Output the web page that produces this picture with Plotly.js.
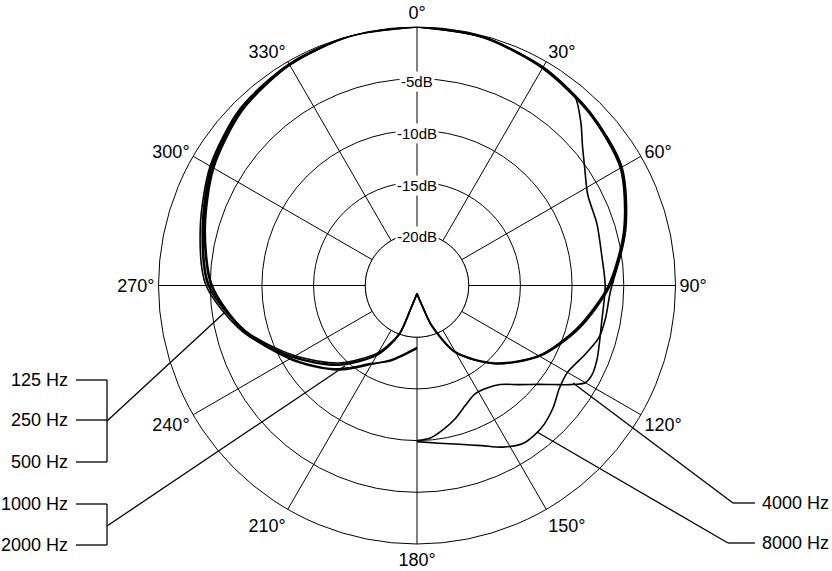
<!DOCTYPE html>
<html>
<head>
<meta charset="utf-8">
<script src="https://cdn.plot.ly/plotly-3.0.1.min.js"></script>
<style>body{margin:0;background:#fff}</style>
</head>
<body>
<div id="myDiv" style="width:832px;height:571px"></div>
<script>
// polar response, dB relative to 0 deg
var thetaFull = [0,15,30,45,60,75,90,105,120,135,150,160,165,170,175,180,185,190,195,200,210,225,240,255,270,285,300,315,330,345,360];
var hz125 = [0,-0.15,-0.6,-1.3,-2.1,-4.1,-6.3,-8.8,-11.3,-14.3,-17.5,-20.9,-22.8,-23.6,-24.0,-24.2,-24.0,-23.6,-22.7,-20.0,-17.3,-14.2,-11.2,-7.8,-4.8,-3.5,-2.0,-0.9,-0.3,0,0];
var hz250 = [0,-0.1,-0.7,-1.4,-2.2,-4.2,-6.4,-8.9,-11.4,-14.4,-17.6,-21.0,-22.9,-23.6,-24.0,-24.2,-24.0,-23.6,-22.8,-20.1,-17.5,-14.4,-11.4,-7.9,-4.9,-3.6,-2.1,-1.0,-0.35,-0.05,0];
var hz500 = [0,-0.2,-0.75,-1.45,-2.3,-4.3,-6.5,-9.0,-11.4,-14.3,-17.5,-20.8,-22.8,-23.6,-24.0,-24.2,-24.0,-23.6,-22.6,-19.9,-17.2,-14.1,-11.1,-7.6,-4.6,-3.3,-1.9,-0.8,-0.25,0,0];

var thetaLeft = [180,190,200,210,220,225,232,240,255,270,285,300,315,330,345,360];
var hz1000 = [-18.9,-18.2,-17.2,-16.3,-14.6,-13.6,-12.4,-10.9,-7.8,-5.2,-3.8,-2.3,-1.1,-0.4,-0.05,0];
var hz2000 = [-19.0,-18.3,-17.3,-16.2,-14.4,-13.5,-12.3,-10.8,-7.7,-5.1,-3.7,-2.2,-1.0,-0.35,0,0];

var theta4000 = [0,15,30,36,40,45,50,55,62,71,81,90,101,112,117,120,123,126,129,134,140,146,152,158,164,170,175,180];
var hz4000 = [0,-0.15,-0.65,-0.95,-1.2,-2.6,-4.1,-5.2,-6.3,-6.6,-6.9,-6.8,-6.8,-6.2,-6.0,-6.2,-7.4,-8.7,-9.8,-11.2,-12.5,-13.0,-13.1,-12.5,-11.6,-10.8,-10.2,-10.0];

var theta8000 = [0,15,30,45,60,75,85,92,100,106,112,120,126,132,139,146,152,158,165,172,180];
var hz8000 = [0,-0.15,-0.65,-1.35,-2.15,-4.15,-5.6,-6.3,-6.5,-6.7,-7.4,-8.2,-8.0,-7.3,-6.7,-6.6,-7.3,-8.3,-9.1,-9.6,-9.9];

var dbTicks = [-5,-10,-15,-20];
var rMin = -25, rMax = 0;

// page geometry (px)
var W = 832, H = 571;
var cx = 417, cy = 285.5, R = 258.5;
function px(x) { return x / W; }
function py(y) { return 1 - y / H; }

var font = 'Arial, "Liberation Sans", sans-serif';

// inner disc hides the spokes below -20 dB
var discTheta = [], discR = [];
for (var a = 0; a <= 360; a += 5) { discTheta.push(a); discR.push(dbTicks[dbTicks.length - 1]); }

function curve(theta, r, name) {
  return {
    type: 'scatterpolar', mode: 'lines', name: name,
    theta: theta, r: r,
    line: { color: '#000', width: 1.6, shape: 'spline', smoothing: 0.8 },
    hoverinfo: 'skip'
  };
}

var data = [
  {
    type: 'scatterpolar', mode: 'lines', theta: discTheta, r: discR,
    fill: 'toself', fillcolor: '#fff', line: { color: '#000', width: 1 }, hoverinfo: 'skip'
  },
  curve(thetaFull, hz125, '125 Hz'),
  curve(thetaFull, hz250, '250 Hz'),
  curve(thetaFull, hz500, '500 Hz'),
  curve(thetaLeft, hz1000, '1000 Hz'),
  curve(thetaLeft, hz2000, '2000 Hz'),
  curve(theta4000, hz4000, '4000 Hz'),
  curve(theta8000, hz8000, '8000 Hz')
];

var annotations = dbTicks.map(function (v) {
  var rp = (v - rMin) / (rMax - rMin) * R;
  return {
    xref: 'paper', yref: 'paper', x: px(cx), y: py(cy - rp), yshift: -3,
    xanchor: 'center', yanchor: 'middle',
    text: v + 'dB', showarrow: false, bgcolor: '#fff', borderpad: 1,
    font: { family: font, size: 15, color: '#000' }
  };
});

function label(text, x, y, anchor) {
  annotations.push({
    xref: 'paper', yref: 'paper', x: px(x), y: py(y), xanchor: anchor, yanchor: 'middle',
    text: text, showarrow: false, font: { family: font, size: 18, color: '#000' }
  });
}
label('125 Hz', 70, 380, 'right');
label('250 Hz', 70, 420, 'right');
label('500 Hz', 70, 462, 'right');
label('1000 Hz', 70, 504, 'right');
label('2000 Hz', 70, 545, 'right');
label('4000 Hz', 760, 503, 'left');
label('8000 Hz', 760, 543, 'left');

var shapes = [];
function seg(x0, y0, x1, y1) {
  shapes.push({
    type: 'line', xref: 'paper', yref: 'paper',
    x0: px(x0), y0: py(y0), x1: px(x1), y1: py(y1),
    line: { color: '#000', width: 1.3 }
  });
}
// left brackets
seg(76, 380, 107, 380); seg(76, 420, 107, 420); seg(76, 462, 107, 462); seg(107, 380, 107, 462);
seg(107, 421, 224, 313);
seg(76, 504, 107, 504); seg(76, 545, 107, 545); seg(107, 504, 107, 545);
seg(107, 526, 345, 366);
// right callouts
seg(733, 503, 755, 503); seg(733, 503, 573, 383);
seg(728, 543, 755, 543); seg(728, 543, 537, 432);

var layout = {
  width: W, height: H,
  margin: { t: 0, r: 0, l: 0, b: 0 },
  paper_bgcolor: '#fff',
  showlegend: false,
  font: { family: font, color: '#000' },
  polar: {
    domain: { x: [px(cx - R), px(cx + R)], y: [py(cy + R), py(cy - R)] },
    bgcolor: '#fff',
    radialaxis: {
      range: [rMin, rMax], tickvals: dbTicks, showticklabels: false, ticks: '',
      showline: false, gridcolor: '#000', gridwidth: 1
    },
    angularaxis: {
      rotation: 90, direction: 'clockwise', dtick: 30, ticksuffix: '°', ticks: '',
      showline: true, linecolor: '#000', linewidth: 1, gridcolor: '#000', gridwidth: 1,
      tickfont: { family: font, size: 18, color: '#000' }
    }
  },
  annotations: annotations,
  shapes: shapes
};

Plotly.newPlot('myDiv', data, layout, { staticPlot: true });
</script>
</body>
</html>
